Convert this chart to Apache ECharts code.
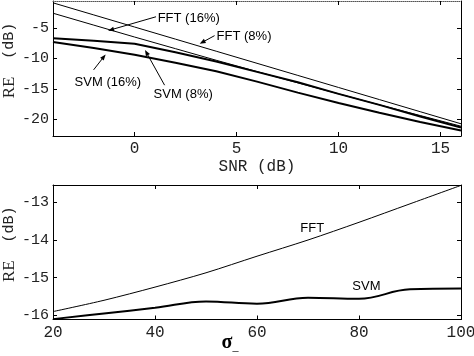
<!DOCTYPE html>
<html><head><meta charset="utf-8">
<script src="https://cdn.jsdelivr.net/npm/echarts@6/dist/echarts.min.js"></script>
<style>html,body{margin:0;padding:0;background:#fff}#c{width:474px;height:356px}</style>
</head><body><div id="c"></div>
<script>
// ---- data (top panel: RE vs SNR) ----
const snr   = [-4, -2, 0, 2, 4, 6, 8, 10, 12, 14, 16];
const fft8  = [-0.9, -2.88, -4.86, -6.84, -8.82, -10.8, -12.78, -14.76, -16.74, -18.72, -20.7];
const fft16 = [-2.6, -4.55, -6.5, -8.4, -10.3, -12.15, -14.0, -15.8, -17.6, -19.35, -21.1];
const svm8  = [-6.7, -7.1, -7.6, -9.0, -10.5, -12.2, -13.9, -15.8, -17.6, -19.5, -21.3];
const svm16 = [-7.3, -8.3, -9.4, -10.7, -12.1, -13.8, -15.6, -17.3, -18.9, -20.4, -21.8];
// ---- data (bottom panel: RE vs sigma) ----
const sigma    = [20, 30, 40, 50, 60, 70, 80, 90, 100];
const fftSigma = [-15.9, -15.6, -15.25, -14.87, -14.43, -14.0, -13.53, -13.04, -12.55];
const svmSigma = [-16.1, -15.95, -15.8, -15.63, -15.69, -15.53, -15.56, -15.31, -15.29];
// ---- tick labels ----
const snrTicks = [0, 5, 10, 15];
const reTicksTop = [-20, -15, -10, -5];
const sigmaTicks = [20, 40, 60, 80, 100];
const reTicksBottom = [-16, -15, -14, -13];
// ---- annotation texts ----
const notes = [
  {g: 0, text: 'FFT (16%)', at: [1.13, -3.38], from: [1.05, -3.18], to: [-1.30, -5.45]},
  {g: 0, text: 'FFT (8%)',  at: [4.02, -6.35], from: [3.92, -6.27], to: [3.19, -7.6]},
  {g: 0, text: 'SVM (16%)', at: [-2.94, -13.93], from: [-2.01, -11.87], to: [-1.42, -9.35]},
  {g: 0, text: 'SVM (8%)',  at: [0.93, -15.93], from: [1.47, -14.38], to: [0.51, -8.62]},
  {g: 1, text: 'FFT', at: [68.5, -13.68]},
  {g: 1, text: 'SVM', at: [78.7, -15.23]}
];

const MONO = '"Liberation Mono", "DejaVu Sans Mono", monospace';
const SERIF = '"Liberation Serif", "DejaVu Serif", serif';
const SANS = '"Liberation Sans", Arial, sans-serif';
const grids = [
  {left: 53, right: 13, top: 1, height: 135, outerBoundsMode: 'none', containLabel: false},
  {left: 53, right: 13, top: 185, height: 134.5, outerBoundsMode: 'none', containLabel: false}
];
function xMain(gi, min, max, ticks, name, nameOpts) {
  return Object.assign({
    type: 'value', gridIndex: gi, min: min, max: max, position: 'bottom',
    axisLine: {show: true, onZero: false, lineStyle: {color: '#000', width: 1}},
    axisTick: {show: true, inside: true, length: 4, customValues: ticks, lineStyle: {color: '#000'}},
    axisLabel: {customValues: ticks, margin: 5, color: '#222', fontFamily: MONO, fontSize: 16},
    splitLine: {show: false}, nameMoveOverlap: false,
    name: name, nameLocation: 'middle'
  }, nameOpts);
}
function xTop(gi, min, max, ticks, dotted) {
  return {
    type: 'value', gridIndex: gi, min: min, max: max, position: 'top',
    axisLine: {show: true, onZero: false, lineStyle: {color: dotted ? '#555' : '#000', width: 1, type: dotted ? 'dotted' : 'solid'}},
    axisTick: {show: true, inside: true, length: 4, customValues: ticks, lineStyle: {color: '#000'}},
    axisLabel: {show: false}, splitLine: {show: false}
  };
}
function yMain(gi, min, max, ticks) {
  return {
    type: 'value', gridIndex: gi, min: min, max: max, position: 'left',
    axisLine: {show: true, onZero: false, lineStyle: {color: '#000', width: 1}},
    axisTick: {show: true, inside: true, length: 4, customValues: ticks, lineStyle: {color: '#000'}},
    axisLabel: {customValues: ticks, margin: 4, color: '#222', fontFamily: MONO, fontSize: 15},
    splitLine: {show: false}, nameMoveOverlap: false,
    name: '{a|RE}{b|  (dB)}', nameLocation: 'middle', nameRotate: 90, nameGap: 35,
    nameTextStyle: {padding: [0, 0, 0, 16], rich: {
      a: {fontFamily: SERIF, fontSize: 17, color: '#222'},
      b: {fontFamily: MONO, fontSize: 15, color: '#222'}
    }}
  };
}
function yRight(gi, min, max, ticks) {
  return {
    type: 'value', gridIndex: gi, min: min, max: max, position: 'right',
    axisLine: {show: true, onZero: false, lineStyle: {color: '#000', width: 1}},
    axisTick: {show: true, inside: true, length: 4, customValues: ticks, lineStyle: {color: '#000'}},
    axisLabel: {show: false}, splitLine: {show: false}
  };
}
function line(xi, yi, xs, ys, w, smooth) {
  return {
    type: 'line', xAxisIndex: xi, yAxisIndex: yi,
    data: xs.map((x, i) => [x, ys[i]]),
    showSymbol: false, smooth: smooth || false,
    lineStyle: {color: '#000', width: w}, silent: true
  };
}
const chart = echarts.init(document.getElementById('c'), null, {renderer: 'canvas'});
const option = {
  animation: false,
  backgroundColor: '#fff',
  grid: grids,
  xAxis: [
    xMain(0, -4, 16, snrTicks, 'SNR (dB)', {nameGap: 23, nameTextStyle: {fontFamily: MONO, fontSize: 16, color: '#222'}}),
    xTop(0, -4, 16, snrTicks, true),
    xMain(1, 20, 100, sigmaTicks, '{s|σ}{u|_}', {nameGap: 13, nameTextStyle: {padding: [0, 54, 0, 0], rich: {
      s: {fontFamily: SERIF, fontWeight: 'bold', fontSize: 20, color: '#000'},
      u: {fontFamily: SERIF, fontSize: 12, color: '#000', verticalAlign: 'bottom'}
    }}}),
    xTop(1, 20, 100, sigmaTicks, false)
  ],
  yAxis: [
    yMain(0, -22.7, -0.6, reTicksTop),
    yRight(0, -22.7, -0.6, reTicksTop),
    yMain(1, -16.11, -12.54, reTicksBottom),
    yRight(1, -16.11, -12.54, reTicksBottom)
  ],
  series: [
    line(0, 0, snr, fft8, 1),
    line(0, 0, snr, fft16, 1),
    line(0, 0, snr, svm8, 2),
    line(0, 0, snr, svm16, 2),
    line(2, 2, sigma, fftSigma, 1, 0.3),
    line(2, 2, sigma, svmSigma, 2, 0.4)
  ]
};
chart.setOption(option);

function toPx(g, p) {
  const idx = g === 0 ? 0 : 2;
  return chart.convertToPixel({xAxisIndex: idx, yAxisIndex: idx}, p);
}
const elements = [];
notes.forEach(n => {
  const t = toPx(n.g, n.at);
  elements.push({type: 'text', x: t[0], y: t[1], silent: true,
    style: {text: n.text, font: '13px ' + SANS, fill: '#000', align: 'left', verticalAlign: 'middle'}});
  if (n.from) {
    const a = toPx(n.g, n.from), b = toPx(n.g, n.to);
    const dx = b[0] - a[0], dy = b[1] - a[1], L = Math.hypot(dx, dy);
    const ux = dx / L, uy = dy / L, nx = -uy, ny = ux, hl = 6, hw = 2.3;
    elements.push({type: 'line', silent: true, shape: {x1: a[0], y1: a[1], x2: b[0] - ux * 3, y2: b[1] - uy * 3},
      style: {stroke: '#000', lineWidth: 1}});
    elements.push({type: 'polygon', silent: true, shape: {points: [
      [b[0], b[1]],
      [b[0] - ux * hl + nx * hw, b[1] - uy * hl + ny * hw],
      [b[0] - ux * hl - nx * hw, b[1] - uy * hl - ny * hw]
    ]}, style: {fill: '#000'}});
  }
});
chart.setOption({graphic: {elements: elements}});
</script>
</body></html>
